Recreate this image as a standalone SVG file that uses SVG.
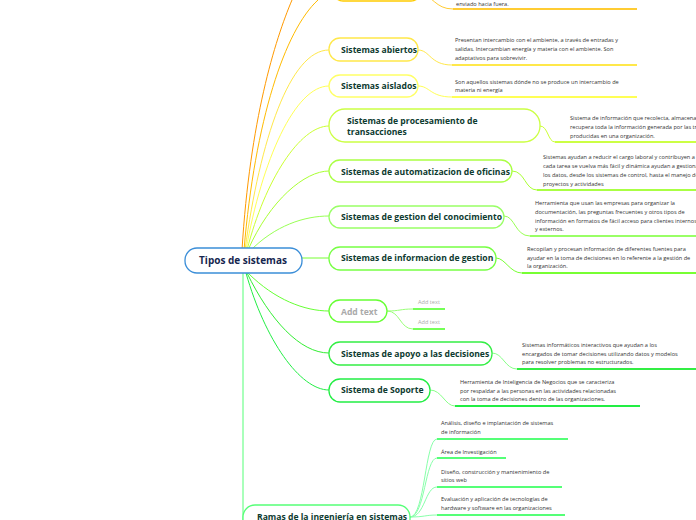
<svg xmlns="http://www.w3.org/2000/svg" width="696" height="520" viewBox="0 0 696 520">
<style>
.n{fill:#fff;stroke-width:1.3}
.t{font-family:"Open Sans",sans-serif;font-weight:bold;font-size:8.6px;fill:#0e3b30}
.d{font-family:"Open Sans",sans-serif;font-size:5.6px;fill:#333}
.c{fill:none;stroke-width:1}
.u{stroke-width:1.8}
</style>
<rect width="696" height="520" fill="#fff"/>
<g id="connectors">
<path class="c" stroke="#ff9900" d="M242,250 C250,120 275,40 292,0"/>
<path class="c" stroke="#ffbb00" d="M244,250 C255,120 285,30 318,0"/>
<path class="c" stroke="#ffe84a" d="M245,250 C260,140 290,50 329,50"/>
<path class="c" stroke="#ffff55" d="M246,250 C262,160 295,86 329,86"/>
<path class="c" stroke="#ccff33" d="M247,250 C265,180 300,126 329,126"/>
<path class="c" stroke="#aaff33" d="M248,250 C270,200 305,171 329,171"/>
<path class="c" stroke="#99ff55" d="M249,252 C275,225 305,216 329,216"/>
<path class="c" stroke="#77ff33" d="M302,258 L329,258"/>
<path class="c" stroke="#66ff33" d="M248,273 C275,300 305,311 329,311"/>
<path class="c" stroke="#33ee33" d="M247,273 C270,320 300,353 329,353"/>
<path class="c" stroke="#22ee44" d="M246,273 C265,340 300,390 329,390"/>
<path class="c" stroke="#55ff77" d="M243,273 L243,520"/>
<path class="c" stroke="#ffe84a" d="M418,50 C430,50 430,65 452,65"/>
<path class="c" stroke="#ffff55" d="M418,86 C430,86 430,97 452,97"/>
<path class="c" stroke="#ccff33" d="M540,126 C548,126 548,142 555,142"/>
<path class="c" stroke="#aaff33" d="M512,171 C525,171 525,190 537,190"/>
<path class="c" stroke="#99ff55" d="M504,216 C515,216 515,236 530,236"/>
<path class="c" stroke="#77ff33" d="M496,258 C505,258 510,273 522,273"/>
<path class="c" stroke="#99ff77" d="M387,311 C400,311 400,309 413,309 M387,311 C400,311 400,329 413,329"/>
<path class="c" stroke="#88ff88" d="M492,353 C503,353 505,369 517,369"/>
<path class="c" stroke="#88ff88" d="M430,390 C442,390 445,406 455,406"/>
<path class="c" stroke="#88ffaa" d="M410,517 C425,517 425,439 437,439 M410,517 C425,517 425,458 437,458 M410,517 C425,517 425,487 437,487 M410,517 C425,517 425,515 437,515"/>
</g>
<g id="top">
<rect class="n" stroke="#ffcc00" x="333" y="-20" width="88" height="21" rx="10"/>
<text class="d" x="456" y="6">enviado hacia fuera.</text>
<line class="u" stroke="#ffcc33" x1="453" y1="9" x2="637" y2="9"/>
<path class="c" stroke="#ffcc33" d="M421,-5 C433,-5 435,9 453,9"/>
</g>
<g id="central"><rect x="185" y="248" width="117" height="25" rx="12" fill="#fff" stroke="#3b8ed8" stroke-width="1.3"/><text x="243" y="264" text-anchor="middle" font-family="Open Sans,sans-serif" font-weight="bold" font-size="10px" fill="#15264f">Tipos de sistemas</text></g>
<g id="abiertos"><rect class="n" stroke="#ffe84a" x="329" y="38" width="89" height="23" rx="11"/><text class="t" x="341" y="53">Sistemas abiertos</text>
<text class="d" x="455" y="42">Presentan intercambio con el ambiente, a través de entradas y</text><text class="d" x="455" y="51">salidas. Intercambian energía y materia con el ambiente. Son</text><text class="d" x="455" y="60">adaptativos para sobrevivir.</text><line class="u" stroke="#ffe84a" x1="452" y1="65" x2="637" y2="65"/></g>
<g id="aislados"><rect class="n" stroke="#ffff66" x="329" y="75" width="89" height="22" rx="11"/><text class="t" x="341" y="89">Sistemas aislados</text>
<text class="d" x="455" y="84">Son aquellos sistemas dónde no se produce un intercambio de</text><text class="d" x="455" y="92">materia ni energía</text><line class="u" stroke="#ffff55" x1="452" y1="97" x2="637" y2="97"/></g>
<g id="procesamiento"><rect class="n" stroke="#ccff44" x="329" y="109" width="211" height="33" rx="16"/><text class="t" x="347" y="124">Sistemas de procesamiento de</text><text class="t" x="347" y="135">transacciones</text>
<text class="d" x="570" y="120">Sistema de información que recolecta, almacena, modifica y</text><text class="d" x="570" y="129">recupera toda la información generada por las transacciones</text><text class="d" x="570" y="138">producidas en una organización.</text><line class="u" stroke="#ccff44" x1="555" y1="142" x2="696" y2="142"/></g>
<g id="automatizacion"><rect class="n" stroke="#aaff44" x="329" y="160" width="183" height="22" rx="11"/><text class="t" x="341" y="175">Sistemas de automatizacion de oficinas</text>
<text class="d" x="543" y="159">Sistemas ayudan a reducir el cargo laboral y contribuyen a que</text><text class="d" x="543" y="168">cada tarea se vuelva más fácil y dinámica ayudan a gestionar</text><text class="d" x="543" y="177">los datos, desde los sistemas de control, hasta el manejo de</text><text class="d" x="543" y="186">proyectos y actividades</text><line class="u" stroke="#aaff44" x1="537" y1="190" x2="696" y2="190"/></g>
<g id="conocimiento"><rect class="n" stroke="#99ff66" x="329" y="206" width="175" height="22" rx="11"/><text class="t" x="341" y="220">Sistemas de gestion del conocimiento</text>
<text class="d" x="535" y="205">Herramienta que usan las empresas para organizar la</text><text class="d" x="535" y="214">documentación, las preguntas frecuentes y otros tipos de</text><text class="d" x="535" y="223">información en formatos de fácil acceso para clientes internos</text><text class="d" x="535" y="231">y externos.</text><line class="u" stroke="#99ff66" x1="530" y1="236" x2="696" y2="236"/></g>
<g id="informacion"><rect class="n" stroke="#77ff44" x="329" y="247" width="167" height="23" rx="11"/><text class="t" x="341" y="261">Sistemas de informacion de gestion</text>
<text class="d" x="527" y="251">Recopilan y procesan información de diferentes fuentes para</text><text class="d" x="527" y="260">ayudar en la toma de decisiones en lo referente a la gestión de</text><text class="d" x="527" y="268">la organización.</text><line class="u" stroke="#77ff33" x1="522" y1="273" x2="696" y2="273"/></g>
<g id="addtext"><rect class="n" stroke="#66ff33" x="329" y="300" width="58" height="22" rx="11"/><text class="t" x="341" y="315" fill="#aaa" style="fill:#aaa">Add text</text>
<text class="d" x="418" y="304" style="fill:#aaa">Add text</text><text class="d" x="418" y="324" style="fill:#aaa">Add text</text>
<line class="u" stroke="#66ff44" x1="413" y1="309" x2="445" y2="309"/><line class="u" stroke="#66ff44" x1="413" y1="329" x2="445" y2="329"/></g>
<g id="apoyo"><rect class="n" stroke="#33ee44" x="329" y="342" width="163" height="23" rx="11"/><text class="t" x="341" y="357">Sistemas de apoyo a las decisiones</text>
<text class="d" x="522" y="347">Sistemas informáticos interactivos que ayudan a los</text><text class="d" x="522" y="356">encargados de tomar decisiones utilizando datos y modelos</text><text class="d" x="522" y="364">para resolver problemas no estructurados.</text><line class="u" stroke="#33ee44" x1="517" y1="369" x2="696" y2="369"/></g>
<g id="soporte"><rect class="n" stroke="#22ee44" x="329" y="379" width="101" height="23" rx="11"/><text class="t" x="341" y="393">Sistema de Soporte</text>
<text class="d" x="460" y="384">Herramienta de Inteligencia de Negocios que se caracteriza</text><text class="d" x="460" y="393">por respaldar a las personas en las actividades relacionadas</text><text class="d" x="460" y="401">con la toma de decisiones dentro de las organizaciones.</text><line class="u" stroke="#22ee44" x1="455" y1="406" x2="640" y2="406"/></g>
<g id="ramas"><rect class="n" stroke="#55ff77" x="243" y="505" width="167" height="30" rx="12"/><text class="t" x="257" y="520">Ramas de la ingeniería en sistemas</text>
<text class="d" x="441" y="425">Análisis, diseño e implantación de sistemas</text><text class="d" x="441" y="434">de información</text><line class="u" stroke="#55ff77" x1="437" y1="439" x2="568" y2="439"/>
<text class="d" x="441" y="454">Área de Investigación</text><line class="u" stroke="#55ff77" x1="437" y1="458" x2="506" y2="458"/>
<text class="d" x="441" y="474">Diseño, construcción y mantenimiento de</text><text class="d" x="441" y="482">sitios web</text><line class="u" stroke="#55ff77" x1="437" y1="487" x2="562" y2="487"/>
<text class="d" x="441" y="501">Evaluación y aplicación de tecnologías de</text><text class="d" x="441" y="510">hardware y software en las organizaciones</text><line class="u" stroke="#55ff77" x1="437" y1="515" x2="565" y2="515"/></g>
</svg>
